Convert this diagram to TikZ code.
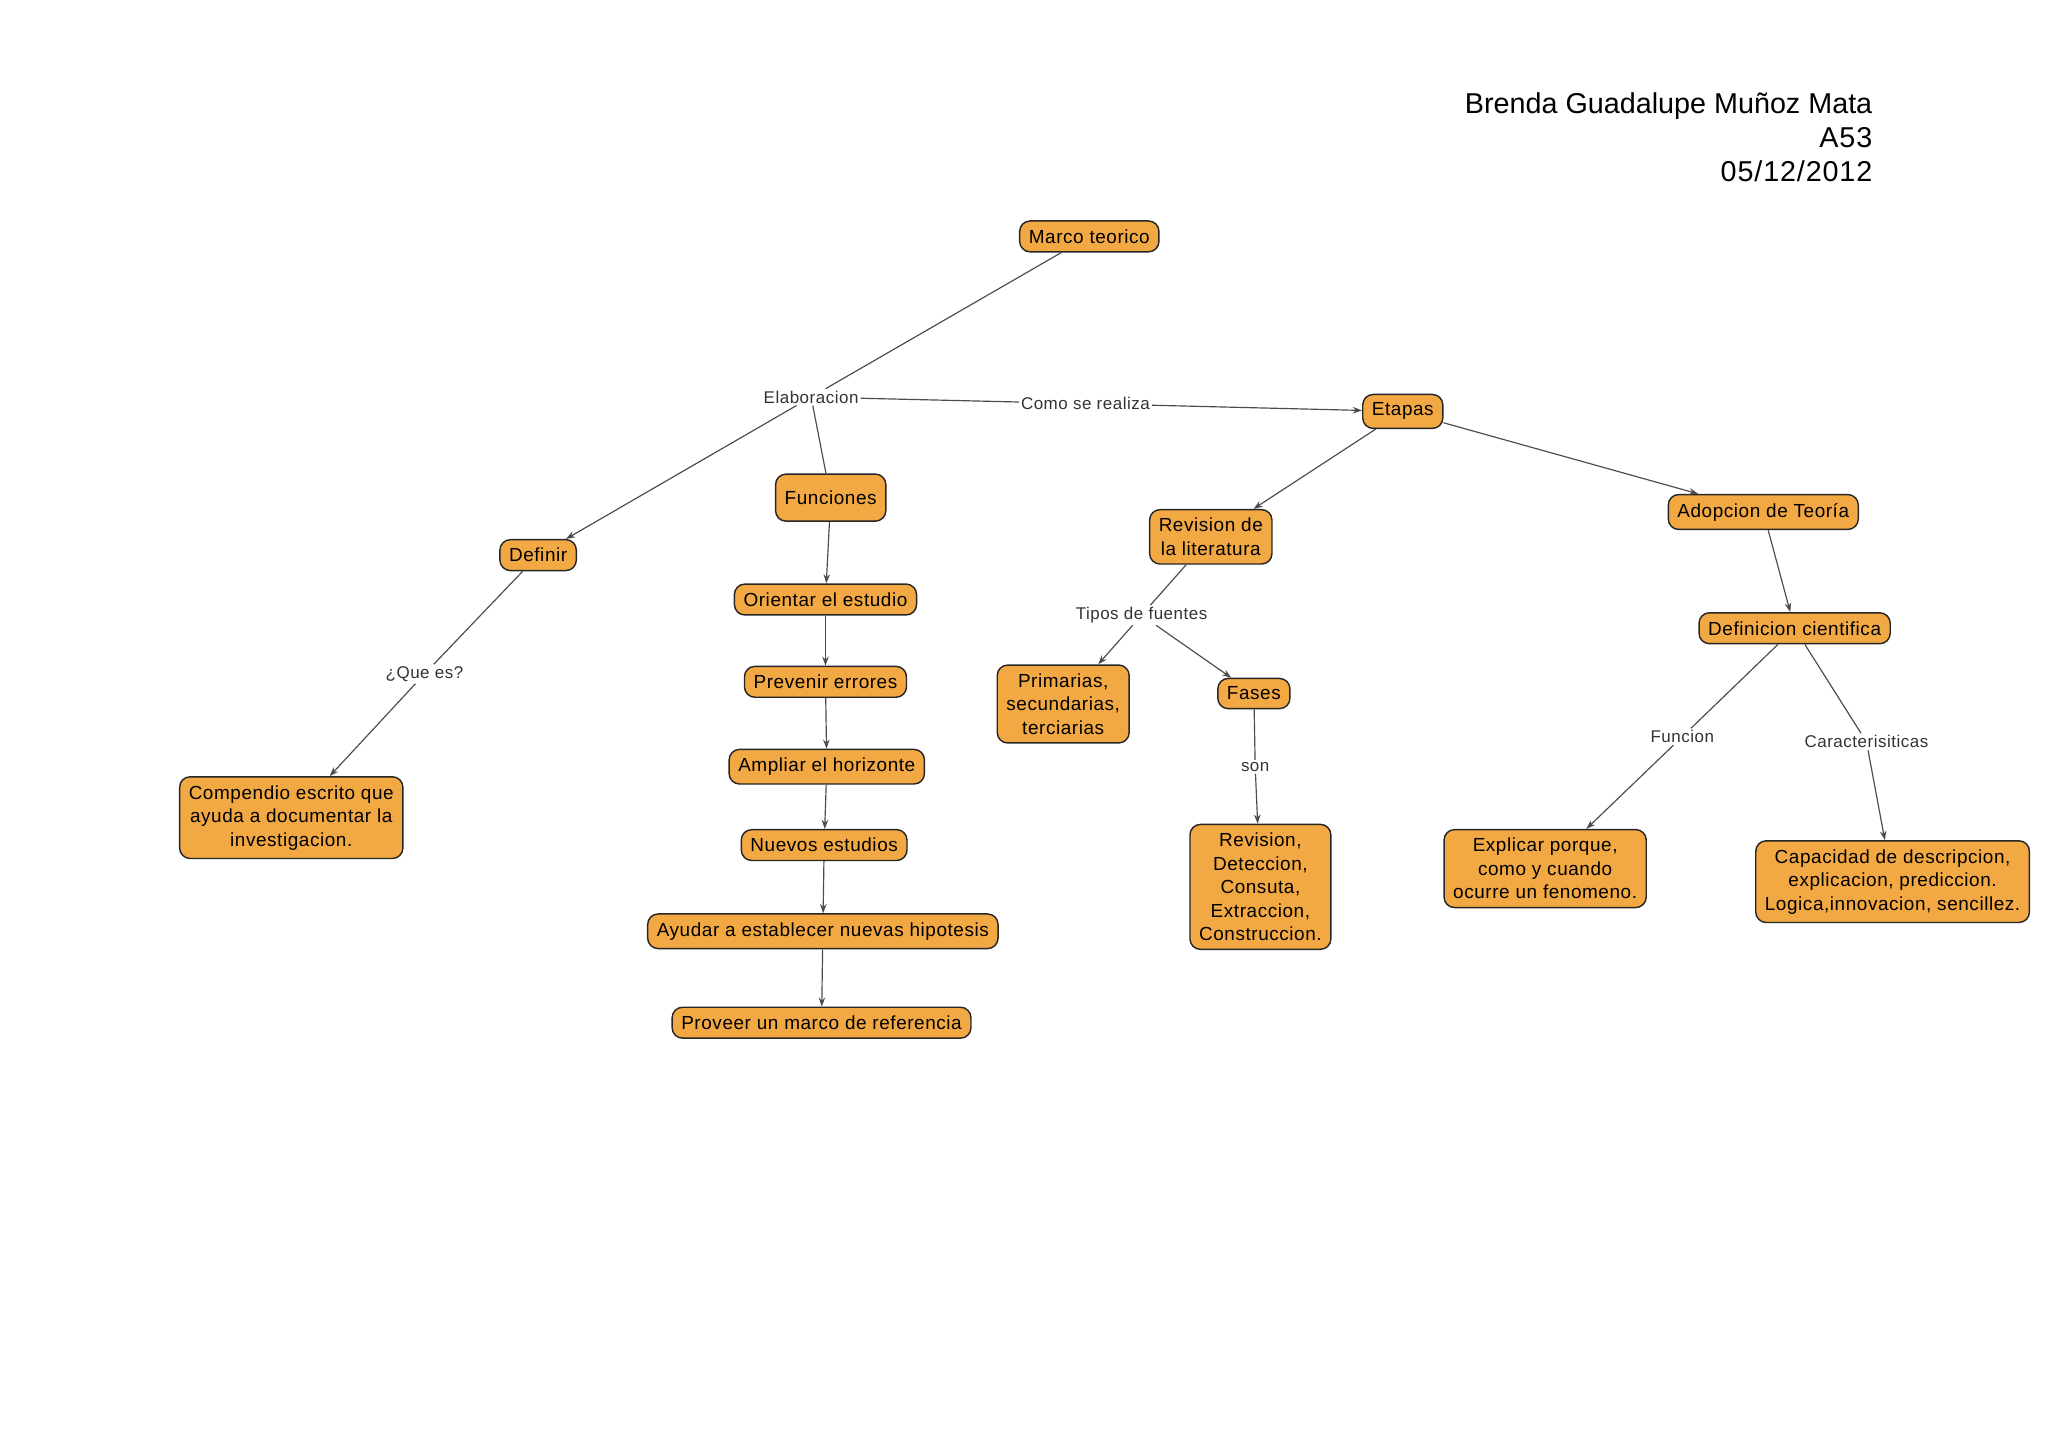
\documentclass[tikz,border=0pt]{standalone}
\usepackage{fontspec}
\setmainfont{Liberation Sans}[LetterSpace=3]
\usetikzlibrary{arrows.meta}
\definecolor{box}{HTML}{F2A843}
\begin{document}
\begin{tikzpicture}[x=1pt,y=-1pt,
 c/.style={draw=black!85,line width=1.1pt,fill=box,rounded corners=8pt,font=\fontsize{14.5}{18}\selectfont,inner xsep=7pt,inner ysep=6.5pt,align=center},
 l/.style={font=\fontsize{13}{15}\selectfont,inner sep=1.5pt,text=black!80},
 ln/.style={draw=black!70,line width=0.9pt},
 ar/.style={ln,-{Stealth[length=7pt,width=5pt]}}]
\useasboundingbox (0,0) rectangle (1568,1108);
\node[anchor=east,align=right,font=\fontsize{22}{26}\selectfont] (hdr) at (1437,105) {\addfontfeature{LetterSpace=0}Brenda Guadalupe Muñoz Mata\\A53\\05/12/2012};
\node[c] (marco) at (834,181) {Marco teorico};
\node[l] (elab) at (621,304) {Elaboracion};
\node[l] (como) at (831,309) {Como se realiza};
\node[c] (etapas) at (1074,315) {Etapas};
\node[c,minimum height=36pt] (func) at (636,381) {Funciones};
\node[c] (def) at (412,425) {Definir};
\node[c] (rev) at (927,411) {Revision de\\la literatura};
\node[c] (adop) at (1350,392) {Adopcion de Teoría};
\node[c] (o1) at (632,459) {Orientar el estudio};
\node[c] (o2) at (632,522) {Prevenir errores};
\node[c] (o3) at (633,587) {Ampliar el horizonte};
\node[c] (o4) at (631,647) {Nuevos estudios};
\node[c] (o5) at (630,713) {Ayudar a establecer nuevas hipotesis};
\node[c] (o6) at (629,783) {Proveer un marco de referencia};
\node[l] (que) at (325,516) {¿Que es?};
\node[c] (comp) at (223,626) {Compendio escrito que\\ayuda a documentar la\\investigacion.};
\node[l] (tipos) at (874,471) {Tipos de fuentes};
\node[c] (prim) at (814,539) {Primarias,\\secundarias,\\terciarias};
\node[c] (fases) at (960,531) {Fases};
\node[l] (son) at (961,587) {son};
\node[c] (revd) at (965,679) {Revision,\\Deteccion,\\Consuta,\\Extraccion,\\Construccion.};
\node[c] (defc) at (1374,481) {Definicion cientifica};
\node[l] (funl) at (1288,564) {Funcion};
\node[l] (car) at (1429,568) {Caracterisiticas};
\node[c] (expl) at (1183,665) {Explicar porque,\\como y cuando\\ocurre un fenomeno.};
\node[c] (cap) at (1449,675) {Capacidad de descripcion,\\explicacion, prediccion.\\Logica,innovacion, sencillez.};
\draw[ln] (marco) -- (elab);
\draw[ln] (elab) -- (como);
\draw[ar] (como) -- (etapas);
\draw[ar] (elab) -- (def);
\draw[ln] (elab) -- (func);
\draw[ar] (etapas) -- (rev);
\draw[ar] (etapas) -- (adop);
\draw[ar] (func) -- (o1);
\draw[ar] (o1) -- (o2);
\draw[ar] (o2) -- (o3);
\draw[ar] (o3) -- (o4);
\draw[ar] (o4) -- (o5);
\draw[ar] (o5) -- (o6);
\draw[ln] (def) -- (que);
\draw[ar] (que) -- (comp);
\draw[ln] (rev) -- (tipos);
\draw[ar] (tipos) -- (prim);
\draw[ar] (tipos) -- (fases);
\draw[ln] (fases) -- (son);
\draw[ar] (son) -- (revd);
\draw[ar] (adop) -- (defc);
\draw[ln] (defc) -- (funl);
\draw[ar] (funl) -- (expl);
\draw[ln] (defc) -- (car);
\draw[ar] (car) -- (cap);
\end{tikzpicture}
\end{document}
